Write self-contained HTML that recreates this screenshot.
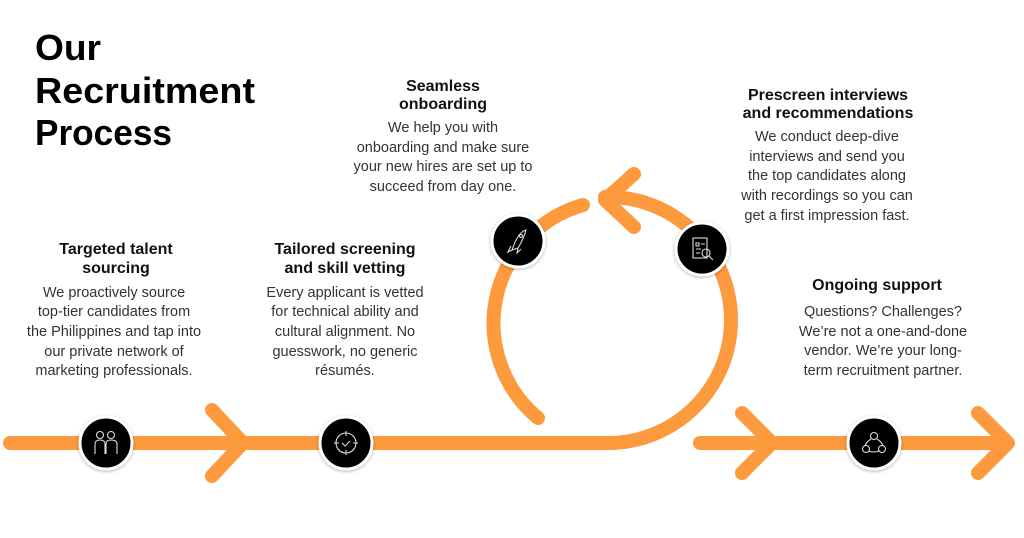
<!DOCTYPE html>
<html><head><meta charset="utf-8"><style>
body{margin:0;background:#fff;}
svg{display:block;}
text{font-family:"Liberation Sans",sans-serif;}
.h{font-size:16px;font-weight:bold;fill:#111;text-anchor:middle;}
.b{font-size:14.5px;fill:#333;text-anchor:middle;}
.t{font-size:36px;font-weight:bold;fill:#000;}
</style></head><body>
<svg width="1024" height="538" viewBox="0 0 1024 538" xmlns="http://www.w3.org/2000/svg">
<defs><filter id="sh" x="-30%" y="-30%" width="160%" height="160%"><feDropShadow dx="0" dy="1" stdDeviation="1.5" flood-color="#000" flood-opacity="0.3"/></filter></defs>
<text class="t" x="35" y="60" textLength="66" lengthAdjust="spacingAndGlyphs">Our</text>
<text class="t" x="35" y="103" textLength="220" lengthAdjust="spacingAndGlyphs">Recruitment</text>
<text class="t" x="35" y="145" textLength="137" lengthAdjust="spacingAndGlyphs">Process</text>

<g fill="none" stroke="#FD9A3E" stroke-width="14" stroke-linecap="round" stroke-linejoin="round">
<path d="M10 443 H608 A123 123 0 0 0 731 320 A123 123 0 0 0 605 197"/>
<path d="M634 174 L605 200 L634 227"/>
<path d="M583 205 A123 123 0 0 0 538 418"/>
<path d="M212 410 L243 443 L212 476"/>
<path d="M700 443 H1005"/>
<path d="M742 413 L772 443 L742 473"/>
<path d="M978 413 L1008 443 L978 473"/>
</g>

<g filter="url(#sh)">
<circle cx="106" cy="443" r="26" fill="#000" stroke="#fff" stroke-width="3"/>
<circle cx="346" cy="443" r="26" fill="#000" stroke="#fff" stroke-width="3"/>
<circle cx="518" cy="241" r="26" fill="#000" stroke="#fff" stroke-width="3"/>
<circle cx="702" cy="249" r="26" fill="#000" stroke="#fff" stroke-width="3"/>
<circle cx="874" cy="443" r="26" fill="#000" stroke="#fff" stroke-width="3"/>
</g>
<g fill="none" stroke="#ddd" stroke-width="1.1">
<circle cx="100" cy="435" r="3.5"/><circle cx="111" cy="435" r="3.5"/>
<path d="M95 454 V444 Q95 440 100 440 Q105 440 105 444 V454 M106 454 V444 Q106 440 111 440 Q117 440 117 444 V454"/>
<circle cx="346" cy="443" r="10"/><path d="M346 431v5M346 450v5M334 443h5M353 443h5M342 443l3 3 5-5"/>
<path d="M512 250 Q518 232 526 230 Q524 238 518 248 Z M512 250 l-4 2 3-6 M518 248 l-1 5 4-4"/><circle cx="521" cy="236" r="1.5"/>
<rect x="693" y="238" width="14" height="20"/><path d="M696 243h3v3h-3zM701 244h4M696 249h5M696 253h4"/><circle cx="706" cy="253" r="4"/><path d="M709 256l4 4"/>
<circle cx="874" cy="436" r="3.5"/><circle cx="866" cy="449" r="3.5"/><circle cx="882" cy="449" r="3.5"/><path d="M871 439 Q866 442 865 446 M877 439 Q882 442 883 446 M869 451 Q874 453 879 451"/>
</g>

<text class="h" x="116" y="254">Targeted talent</text>
<text class="h" x="116" y="273">sourcing</text>
<text class="b"><tspan x="114" y="297">We proactively source</tspan><tspan x="114" y="316">top-tier candidates from</tspan><tspan x="114" y="336">the Philippines and tap into</tspan><tspan x="114" y="356">our private network of</tspan><tspan x="114" y="375">marketing professionals.</tspan></text>

<text class="h" x="345" y="254">Tailored screening</text>
<text class="h" x="345" y="273">and skill vetting</text>
<text class="b"><tspan x="345" y="297">Every applicant is vetted</tspan><tspan x="345" y="316">for technical ability and</tspan><tspan x="345" y="336">cultural alignment. No</tspan><tspan x="345" y="356">guesswork, no generic</tspan><tspan x="345" y="375">résumés.</tspan></text>

<text class="h" x="443" y="91">Seamless</text>
<text class="h" x="443" y="109">onboarding</text>
<text class="b"><tspan x="443" y="132">We help you with</tspan><tspan x="443" y="152">onboarding and make sure</tspan><tspan x="443" y="171">your new hires are set up to</tspan><tspan x="443" y="191">succeed from day one.</tspan></text>

<text class="h" x="828" y="100">Prescreen interviews</text>
<text class="h" x="828" y="118">and recommendations</text>
<text class="b"><tspan x="827" y="141">We conduct deep-dive</tspan><tspan x="827" y="161">interviews and send you</tspan><tspan x="827" y="180">the top candidates along</tspan><tspan x="827" y="200">with recordings so you can</tspan><tspan x="827" y="220">get a first impression fast.</tspan></text>

<text class="h" x="877" y="290">Ongoing support</text>
<text class="b"><tspan x="883" y="316">Questions? Challenges?</tspan><tspan x="883" y="336">We’re not a one-and-done</tspan><tspan x="883" y="355">vendor. We’re your long-</tspan><tspan x="883" y="375">term recruitment partner.</tspan></text>
</svg>
</body></html>
